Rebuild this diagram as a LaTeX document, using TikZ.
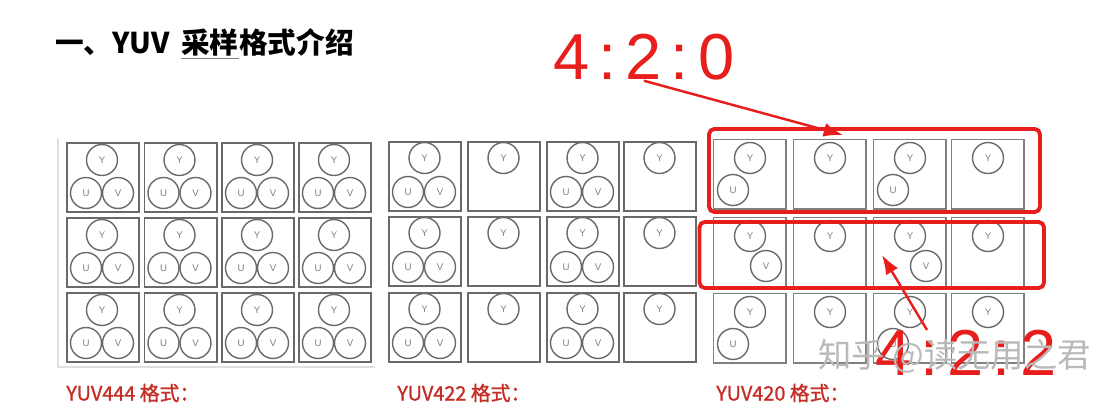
\documentclass[tikz,border=0pt]{standalone}
\usepackage{fontspec}
\setmainfont{Liberation Sans}
\newfontfamily\cjk{Noto Sans CJK SC}
\newfontfamily\cjkmid[FakeBold=1.2]{Noto Sans CJK SC}
\newfontfamily\handfont[LetterSpace=14]{Liberation Sans}
\usetikzlibrary{arrows.meta, positioning}
\definecolor{markred}{RGB}{232,30,28}
\definecolor{labelred}{RGB}{196,46,38}
\definecolor{cellgray}{RGB}{105,105,105}
\tikzstyle{cell} = [rectangle, 
anchor=north west, 
minimum width=1.45cm, 
minimum height=1.39cm, 
inner sep=0pt, 
draw=cellgray, 
line width=1.1pt]
\tikzstyle{thincell} = [cell, 
draw=cellgray!85, 
line width=0.8pt]
\tikzstyle{chroma} = [circle, 
minimum size=0.62cm, 
inner sep=0pt, 
draw=cellgray, 
line width=0.8pt, 
text=gray, 
font=\fontsize{5.5}{6}\selectfont]
\tikzstyle{highlight} = [rectangle, 
inner sep=0pt, 
draw=markred, 
line width=2.2pt, 
rounded corners=3pt]
\tikzstyle{handnote} = [anchor=north west, 
inner sep=0pt, 
text=markred, 
font=\handfont\fontsize{37}{37}\selectfont]
\tikzstyle{caption} = [anchor=west, 
inner sep=0pt, 
text=labelred, 
font=\cjkmid\fontsize{11.3}{13}\selectfont]
\tikzstyle{heading} = [inner sep=0pt, 
font=\cjk\bfseries\fontsize{16.3}{18}\selectfont]
\tikzstyle{arrow} = [draw=markred, line width=1.4pt, -{Latex[length=11pt, width=8pt]}]

\begin{document}
\begin{tikzpicture}[x=0.02cm, y=-0.02cm]
    \useasboundingbox (0,0) rectangle (1120,408);

    % heading
    \node (title) [heading, anchor=west] at (55,44) {一、YUV};
    \node at (title.base east) (titleul) [heading, anchor=base west, xshift=0.22cm] {采样};
    \node at (titleul.base east) (titlerest) [heading, anchor=base west] {格式介绍};
    \draw [gray, line width=0.5pt] ([yshift=-1pt]titleul.south west) -- ([yshift=-1pt]titleul.south east);

    % screenshot frame
    \draw [gray!25, line width=0.6pt] (58,138) -- (58,367) -- (375,367);

    % YUV444
    \foreach \c/\X in {1/66, 2/143.5, 3/221, 4/298}{
      \foreach \r/\T in {1/142, 2/217, 3/292}{
        \node (f\r\c) [cell] at (\X,\T) {};
        \node (fy\r\c) [chroma] at (\X+36,\T+18) {Y};
        \node (fu\r\c) [chroma] at (\X+20,\T+51) {U};
        \node (fv\r\c) [chroma] at (\X+52,\T+51) {V};
      }
    }

    % YUV422
    \foreach \c/\X in {1/388, 2/467, 3/546, 4/623}{
      \foreach \r/\T in {1/141, 2/216, 3/292}{
        \node (h\r\c) [cell] at (\X,\T) {};
        \node (hy\r\c) [chroma] at (\X+36.5,\T+17) {Y};
      }
    }
    \foreach \c/\X in {1/388, 3/546}{
      \foreach \r/\T in {1/141, 2/216, 3/292}{
        \node (hu\r\c) [chroma] at (\X+20,\T+51) {U};
        \node (hv\r\c) [chroma] at (\X+52,\T+51) {V};
      }
    }

    % YUV420
    \foreach \c/\X in {1/713, 2/793, 3/873, 4/951}{
      \foreach \r/\T in {1/139, 2/217, 3/293}{
        \node (q\r\c) [thincell] at (\X,\T) {};
        \node (qy\r\c) [chroma] at (\X+37,\T+19) {Y};
      }
    }
    \foreach \c/\X in {1/713, 3/873}{
      \foreach \r/\T in {1/139, 3/293}{
        \node (qu\r\c) [chroma] at (\X+20,\T+51) {U};
      }
      \node (qv2\c) [chroma] at (\X+53,266) {V};
    }

    % captions
    \node (cap444) [caption] at (66,393) {YUV444 格式：};
    \node (cap422) [caption] at (397,393) {YUV422 格式：};
    \node (cap420) [caption] at (716,393) {YUV420 格式：};

    % red marks
    \node (row420) [highlight, minimum width=6.62cm, minimum height=1.66cm] at (874.5,170.5) {};
    \node (row422) [highlight, minimum width=6.89cm, minimum height=1.32cm] at (871.75,255) {};
    \node (ann420) [handnote] at (553,34) {4:2:0};
    \node (ann422) [handnote] at (875,330) {4:2:2};
    \coordinate (tip420) at (843,135);
    \coordinate (tip422) at (882,255);
    \draw [arrow] (ann420.south) -- (tip420);
    \draw [arrow] ([xshift=1.04cm]ann422.north west) -- (tip422);

    % watermark
    \node (mark) [anchor=west, inner sep=0pt, text=gray!55, font=\cjk\fontsize{19}{21}\selectfont] at (818,356) {知乎 @读无用之君};
\end{tikzpicture}
\end{document}
